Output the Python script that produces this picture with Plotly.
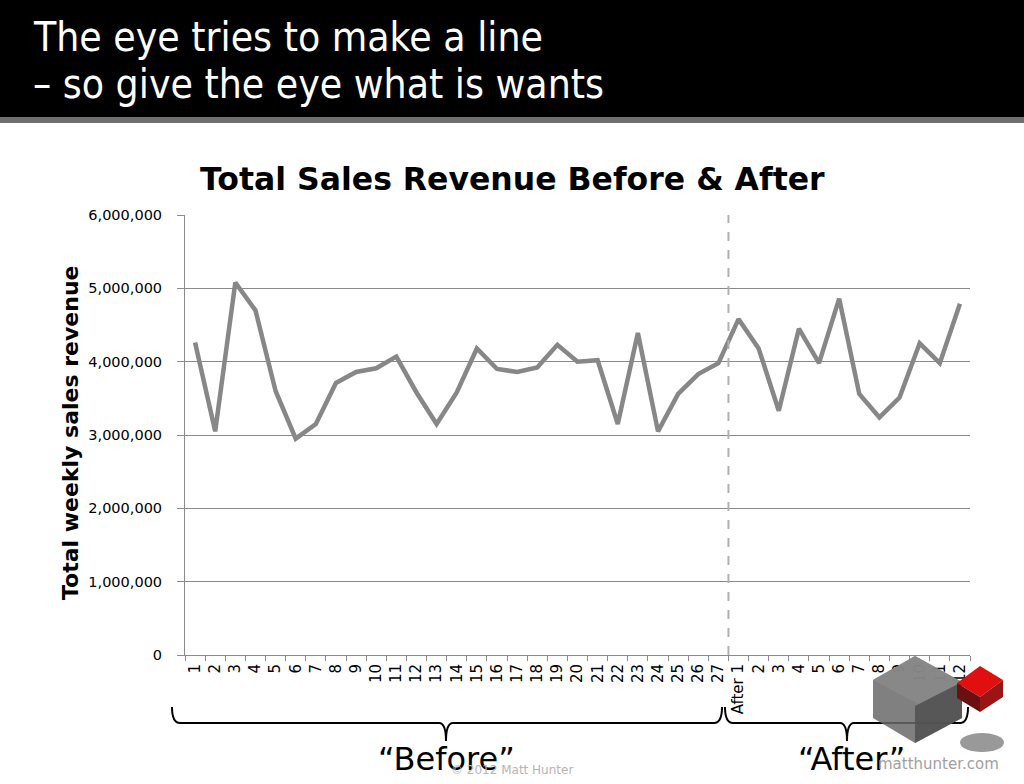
import plotly.graph_objects as go

# ---- data ----
before_labels = [str(i) for i in range(1, 28)]
after_labels = ["After 1"] + [str(i) for i in range(2, 13)]
tick_labels = before_labels + after_labels

before_values = [4260000, 3050000, 5080000, 4700000, 3600000, 2950000, 3150000, 3710000,
                 3860000, 3910000, 4070000, 3580000, 3150000, 3580000, 4180000, 3900000,
                 3860000, 3920000, 4230000, 4000000, 4020000, 3150000, 4390000, 3050000,
                 3560000, 3830000, 3980000]
after_values = [4580000, 4180000, 3330000, 4450000, 3980000, 4860000, 3560000, 3240000,
                3510000, 4250000, 3980000, 4790000]
values = before_values + after_values
xpos = list(range(len(values)))

W, H = 1024, 784
L, R, T, B = 185, 970, 215, 655


def px(x):
    return (x - L) / (R - L)


def py(y):
    return (B - y) / (B - T)


FONT = "DejaVu Sans, Verdana, sans-serif"
HFONT = "DejaVu Sans Condensed, DejaVu Sans, sans-serif"

fig = go.Figure()
fig.add_trace(go.Scatter(
    x=xpos, y=values, mode="lines",
    line=dict(color="#878787", width=4.5),
    hoverinfo="skip", showlegend=False,
))

shapes = []
# header band
shapes.append(dict(type="rect", xref="paper", yref="paper", x0=px(0), x1=px(W),
                   y0=py(0), y1=py(117), fillcolor="#000000", line=dict(width=0), layer="below"))
shapes.append(dict(type="rect", xref="paper", yref="paper", x0=px(0), x1=px(W),
                   y0=py(117), y1=py(123), fillcolor="#707070", line=dict(width=0), layer="below"))
# before/after divider
shapes.append(dict(type="line", xref="x", yref="y", x0=len(before_values) - 0.5,
                   x1=len(before_values) - 0.5, y0=0, y1=6000000,
                   line=dict(color="#b0b0b0", width=2, dash="dash")))


def brace(x0, xm, x1, ytop, ybar, ytip):
    pts = (f"M {px(x0)},{py(ytop)} Q {px(x0)},{py(ybar)} {px(x0+8)},{py(ybar)} "
           f"L {px(xm-7)},{py(ybar)} Q {px(xm)},{py(ybar)} {px(xm)},{py(ytip)} "
           f"Q {px(xm)},{py(ybar)} {px(xm+7)},{py(ybar)} "
           f"L {px(x1-8)},{py(ybar)} Q {px(x1)},{py(ybar)} {px(x1)},{py(ytop)}")
    return dict(type="path", xref="paper", yref="paper", path=pts,
                line=dict(color="#000000", width=2))


shapes.append(brace(172, 446, 722, 707, 723, 741))
shapes.append(brace(725, 847, 968, 707, 723, 741))


def poly(points, color, opacity=1.0):
    p = "M " + " L ".join(f"{px(a)},{py(b)}" for a, b in points) + " Z"
    return dict(type="path", xref="paper", yref="paper", path=p, fillcolor=color,
                line=dict(width=0), opacity=opacity)


# logo (decorative)
shapes.append(dict(type="circle", xref="paper", yref="paper", x0=px(960), x1=px(1004),
                   y0=py(733), y1=py(752), fillcolor="#555555", line=dict(width=0), opacity=0.6))
shapes.append(poly([(873, 680), (915, 656), (962, 682), (962, 718), (915, 743), (873, 718)], "#6a6a6a", 0.85))
shapes.append(poly([(873, 680), (915, 656), (962, 682), (920, 705)], "#8a8a8a", 0.85))
shapes.append(poly([(915, 706), (962, 682), (962, 718), (915, 743)], "#505050", 0.85))
shapes.append(poly([(957, 683), (980, 666), (1003, 680), (980, 697)], "#e01010"))
shapes.append(poly([(957, 683), (980, 697), (980, 712), (957, 698)], "#6a1010"))
shapes.append(poly([(980, 697), (1003, 680), (1003, 697), (980, 712)], "#9a1515"))

annotations = [
    dict(text="The eye tries to make a line", x=px(31), y=py(37), xref="paper", yref="paper",
         xanchor="left", yanchor="middle", showarrow=False,
         font=dict(family=HFONT, size=40.5, color="#ffffff")),
    dict(text="– so give the eye what is wants", x=px(31), y=py(84), xref="paper", yref="paper",
         xanchor="left", yanchor="middle", showarrow=False,
         font=dict(family=HFONT, size=40.5, color="#ffffff")),
    dict(text="<b>Total Sales Revenue Before &amp; After</b>", x=px(512), y=py(179),
         xref="paper", yref="paper", xanchor="center", yanchor="middle", showarrow=False,
         font=dict(family=FONT, size=31.5, color="#000000")),
    dict(text="<b>Total weekly sales revenue</b>", x=px(70), y=py(433), xref="paper", yref="paper",
         xanchor="center", yanchor="middle", textangle=-90, showarrow=False,
         font=dict(family=FONT, size=22, color="#000000")),
    dict(text="“Before”", x=px(446), y=py(759), xref="paper", yref="paper",
         xanchor="center", yanchor="middle", showarrow=False,
         font=dict(family=FONT, size=32, color="#000000")),
    dict(text="“After”", x=px(851), y=py(759), xref="paper", yref="paper",
         xanchor="center", yanchor="middle", showarrow=False,
         font=dict(family=FONT, size=32, color="#000000")),
    dict(text="© 2012 Matt Hunter", x=px(512), y=py(770), xref="paper", yref="paper",
         xanchor="center", yanchor="middle", showarrow=False,
         font=dict(family=FONT, size=12, color="#b5b5b5")),
    dict(text="matthunter.com", x=px(938), y=py(764), xref="paper", yref="paper",
         xanchor="center", yanchor="middle", showarrow=False,
         font=dict(family=FONT, size=15, color="#a0a0a0")),
]

fig.update_layout(
    width=W, height=H,
    margin=dict(l=L, r=W - R, t=T, b=H - B, pad=0),
    paper_bgcolor="#ffffff", plot_bgcolor="#ffffff",
    shapes=shapes, annotations=annotations,
    showlegend=False,
    font=dict(family=FONT, size=14, color="#000000"),
)
fig.update_xaxes(
    range=[-0.5, len(values) - 0.5],
    tickmode="array", tickvals=xpos, ticktext=tick_labels,
    tickangle=-90, ticks="", showgrid=False,
    showline=True, linecolor="#8a8a8a", linewidth=1,
    tickfont=dict(family=FONT, size=15, color="#000000"),
    ticklabelstandoff=2,
    minor=dict(ticks="outside", tick0=-0.5, dtick=1, ticklen=5, tickcolor="#8a8a8a", showgrid=False),
    zeroline=False, fixedrange=True,
)
fig.update_yaxes(
    range=[0, 6000000], tickmode="linear", tick0=0, dtick=1000000,
    tickformat=",d", showgrid=True, gridcolor="#8a8a8a", gridwidth=1,
    showline=True, linecolor="#8a8a8a", linewidth=1,
    ticks="outside", ticklen=7, tickcolor="#8a8a8a",
    ticklabelstandoff=12,
    tickfont=dict(family=FONT, size=14.5, color="#000000"),
    zeroline=False, fixedrange=True,
)

fig.write_html("out.html")
